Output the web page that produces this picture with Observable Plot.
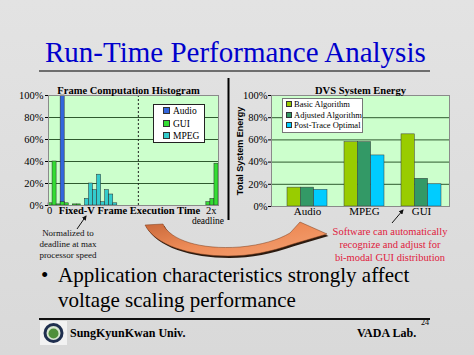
<!DOCTYPE html>
<html><head><meta charset="utf-8">
<script src="https://cdn.jsdelivr.net/npm/d3@7"></script>
<script src="https://cdn.jsdelivr.net/npm/@observablehq/plot@0.6"></script>
<style>
html,body{margin:0;padding:0;}
body{width:474px;height:355px;overflow:hidden;background:#dddddd;}
#slide{position:relative;width:474px;height:355px;background:linear-gradient(#e3e3e3,#d9d9d9);font-family:'Liberation Serif','DejaVu Serif',serif;}
.abs{position:absolute;white-space:nowrap;font-family:'Liberation Serif','DejaVu Serif',serif;}
.chart{position:absolute;}
.legend{position:absolute;background:#fff;border:1px solid #222;box-sizing:border-box;font-family:'Liberation Serif','DejaVu Serif',serif;color:#000;}
.li{position:absolute;white-space:nowrap;width:max-content;}
.sw{display:inline-block;border:1px solid #333;box-sizing:border-box;vertical-align:middle;position:relative;top:-1px;}
</style></head><body>
<div id="slide">
  <div class="chart" id="hist" style="left:0;top:78px;"></div>
  <div class="chart" id="dvs" style="left:232px;top:78px;"></div>
  <div class="legend" id="histLegend" style="left:153px;top:104px;width:52px;height:39px;"></div>
  <div class="legend" id="dvsLegend" style="left:282px;top:98px;width:81px;height:35px;border-color:#777;"></div>
  <div class="abs" style="left:28px;top:227.5px;width:80px;text-align:center;font-size:9px;line-height:11px;color:#111;white-space:normal;">Normalized to<br>deadline at max<br>processor speed</div>
  <div class="abs" style="left:320px;top:224.5px;width:140px;text-align:center;font-size:10.5px;line-height:13px;color:#e0203c;">Software can automatically<br>recognize and adjust for<br>bi-modal GUI distribution</div>
  <div class="abs" style="left:70px;top:327px;font-size:12px;line-height:12px;font-weight:bold;color:#000;">SungKyunKwan Univ.</div>
  <div class="abs" style="left:357px;top:327px;font-size:12px;line-height:12px;font-weight:bold;color:#000;">VADA Lab.</div>
  <div class="abs" style="left:421px;top:319px;font-size:8px;line-height:8px;color:#000;">24</div>
  <svg id="deco" width="474" height="355" style="position:absolute;left:0;top:0;pointer-events:none;">
    <defs>
      <linearGradient id="og" x1="0" y1="0" x2="1" y2="1">
        <stop offset="0" stop-color="#c8683a"/>
        <stop offset="0.5" stop-color="#ee8c58"/>
        <stop offset="1" stop-color="#f4a275"/>
      </linearGradient>
      <marker id="ah" viewBox="0 0 10 10" refX="8" refY="5" markerWidth="5" markerHeight="5" orient="auto">
        <path d="M0,0 L10,5 L0,10 z" fill="#111"/>
      </marker>
    </defs>
    <text x="45" y="62" font-family="Liberation Serif" font-size="29" fill="#0000cc">Run-Time Performance Analysis</text>
    <text x="41" y="282" font-family="Liberation Serif" font-size="21" fill="#000">•</text>
    <text x="58" y="282" font-family="Liberation Serif" font-size="21" fill="#000">Application characteristics strongly affect</text>
    <text x="58" y="307" font-family="Liberation Serif" font-size="21" fill="#000">voltage scaling performance</text>
    <line x1="39" y1="71" x2="430" y2="71" stroke="#6e6e6e" stroke-width="2"/>
    <line x1="228.5" y1="78" x2="228.5" y2="220" stroke="#000" stroke-width="2"/>
    <path d="M145,225 L163,224 C170,240 200,250 240,247 C262,245 278,240 290,233 L300,222 L327,234 L293,244 C270,252 250,256 228,256 C190,256 155,245 145,225 Z" fill="#2a1a10" transform="translate(1.5,2)"/>
    <path d="M145,225 L163,224 C170,240 200,250 240,247 C262,245 278,240 290,233 L300,222 L327,234 L293,244 C270,252 250,256 228,256 C190,256 155,245 145,225 Z" fill="url(#og)" stroke="#7a3a18" stroke-width="0.5"/>
    <line x1="77" y1="229" x2="86" y2="216" stroke="#111" stroke-width="1" marker-end="url(#ah)"/>
    <line x1="392" y1="223" x2="403" y2="210" stroke="#111" stroke-width="1" marker-end="url(#ah)"/>
    <line x1="39" y1="319" x2="430" y2="319" stroke="#111" stroke-width="2"/>
    <rect x="40" y="321" width="27" height="24" fill="#f2f2f2"/>
    <circle cx="53.5" cy="333" r="10" fill="#1f2f4f"/>
    <circle cx="53.5" cy="333" r="7" fill="#d8e6d0"/>
    <circle cx="53.5" cy="333.5" r="5" fill="#4f8f3a"/>
  </svg>
</div>
<script>
// ---------- data ----------
const binCount = 42;                 // histogram bins from 0 to 2x deadline
const histSeries = ["Audio", "GUI", "MPEG"];
const histColors = ["#3366dd", "#33dd33", "#33cccc"];
const audioBin = [3];
const audioPct = [100];
const mpegBin = [9, 10, 11, 12, 13, 14, 15, 16];
const mpegPct = [6, 20, 14, 28, 3, 14, 10, 2];
const guiBin = [0, 1, 2, 3, 4, 6, 7, 39, 40, 41];
const guiPct = [2, 40, 1, 3, 2, 1, 1, 3, 6, 38];
const deadlineBin = 22.2;
const pctTicks = [0, 20, 40, 60, 80, 100];
const histXTickPos = [0.3, 40.2];
const histXTickLabel = ["0", "2x"];

const dvsCats = ["Audio", "MPEG", "GUI"];
const dvsSeries = ["Basic Algorithm", "Adjusted Algorithm", "Post-Trace Optimal"];
const dvsColors = ["#99cc00", "#339966", "#00ccff"];
const basicPct = [17, 58, 65];
const adjustedPct = [17, 58, 25];
const optimalPct = [15, 46, 20];

// ---------- histogram ----------
const toRows = (bins, pcts, series) => bins.map((b, i) => ({bin: b, pct: pcts[i], series}));
const histRows = [
  ...toRows(audioBin, audioPct, "Audio"),
  ...toRows(mpegBin, mpegPct, "MPEG"),
  ...toRows(guiBin, guiPct, "GUI")
];
const gridColor = "#2e5a2e";

const hist = Plot.plot({
  width: 228, height: 150,
  marginLeft: 48, marginRight: 10, marginTop: 17, marginBottom: 23,
  style: {background: "transparent", fontFamily: "Liberation Serif", fontSize: "10.5px", color: "#000", overflow: "visible"},
  x: {domain: [0, binCount], axis: null},
  y: {domain: [0, 100], axis: null},
  color: {domain: histSeries, range: histColors},
  marks: [
    Plot.frame({fill: "#ccffcc"}),
    Plot.ruleY(pctTicks.slice(1), {stroke: gridColor, strokeWidth: 1}),
    Plot.ruleX([deadlineBin], {stroke: "#222", strokeDasharray: "2,2"}),
    Plot.rect(histRows, {x1: "bin", x2: d => d.bin + 1, y1: 0, y2: "pct", fill: "series", stroke: "#2a2a2a", strokeWidth: 0.5}),
    Plot.frame({stroke: "#8a8a8a"}),
    Plot.axisY({ticks: pctTicks, tickFormat: d => d + "%", tickSize: 3, tickPadding: 2, label: null}),
    Plot.text(histXTickLabel, {x: (d, i) => histXTickPos[i], text: d => d, frameAnchor: "bottom", dy: 8}),
    Plot.text(["deadline"], {x: () => 39.4, text: d => d, frameAnchor: "bottom", dy: 18, fontSize: 9.5}),
    Plot.text(["Fixed-V Frame Execution Time"], {frameAnchor: "bottom", dx: -4, dy: 8, fontWeight: "bold", fontSize: 10.5}),
    Plot.text(["Frame Computation Histogram"], {frameAnchor: "top", dx: -5, dy: -9, fontWeight: "bold", fontSize: 10.5})
  ]
});
document.getElementById("hist").append(hist);

// ---------- DVS energy ----------
const dvsValues = [basicPct, adjustedPct, optimalPct];
const bandW = 40;           // band width in px, split into three bars
const subW = bandW / 3;
const dvs = Plot.plot({
  width: 232, height: 142,
  marginLeft: 39, marginRight: 15, marginTop: 17, marginBottom: 14,
  style: {background: "transparent", fontFamily: "Liberation Serif", fontSize: "10.5px", color: "#000", overflow: "visible"},
  x: {domain: dvsCats, paddingInner: 0.304, paddingOuter: 0.2, align: 0.65, axis: null},
  y: {domain: [0, 100], axis: null},
  marks: [
    Plot.frame({fill: "#ccffcc"}),
    Plot.ruleY(pctTicks.slice(1), {stroke: gridColor, strokeWidth: 1}),
    ...dvsValues.map((vals, s) => Plot.barY(dvsCats.map((c, i) => ({cat: c, val: vals[i]})), {
      x: "cat", y: "val", fill: dvsColors[s], stroke: "#3a3a3a", strokeWidth: 0.5,
      insetLeft: s * subW, insetRight: (2 - s) * subW
    })),
    Plot.frame({stroke: "#8a8a8a"}),
    Plot.axisY({ticks: pctTicks, tickFormat: d => d + "%", tickSize: 3, tickPadding: 1, label: null}),
    Plot.axisX({tickSize: 0, tickPadding: 1, fontSize: 11, label: null}),
    Plot.text(["Total System Energy"], {frameAnchor: "left", textAnchor: "middle", rotate: -90, dx: -31, fontWeight: "bold", fontFamily: "Liberation Sans", fontSize: 9}),
    Plot.text(["DVS System Energy"], {frameAnchor: "top", dy: -9, fontWeight: "bold", fontSize: 10.5})
  ]
});
document.getElementById("dvs").append(dvs);

// ---------- legends ----------
function buildLegend(el, names, colors, opts) {
  names.forEach((n, i) => {
    const row = document.createElement("div");
    row.className = "li";
    row.style.top = (opts.top + i * opts.step) + "px";
    row.style.left = opts.left + "px";
    row.style.fontSize = opts.fontSize + "px";
    row.style.lineHeight = opts.step + "px";
    const sw = document.createElement("span");
    sw.className = "sw";
    sw.style.width = opts.sw + "px";
    sw.style.height = opts.sw + "px";
    sw.style.background = colors[i];
    sw.style.marginRight = opts.gap + "px";
    row.append(sw, document.createTextNode(n));
    el.append(row);
  });
}
buildLegend(document.getElementById("histLegend"), ["Audio", "GUI", "MPEG"], ["#3366dd", "#33dd33", "#33cccc"],
  {top: 0, step: 12.5, left: 9, fontSize: 9.5, sw: 7, gap: 3});
buildLegend(document.getElementById("dvsLegend"), dvsSeries, dvsColors,
  {top: 0, step: 10.5, left: 3, fontSize: 8.5, sw: 6, gap: 2});
</script>
</body></html>
